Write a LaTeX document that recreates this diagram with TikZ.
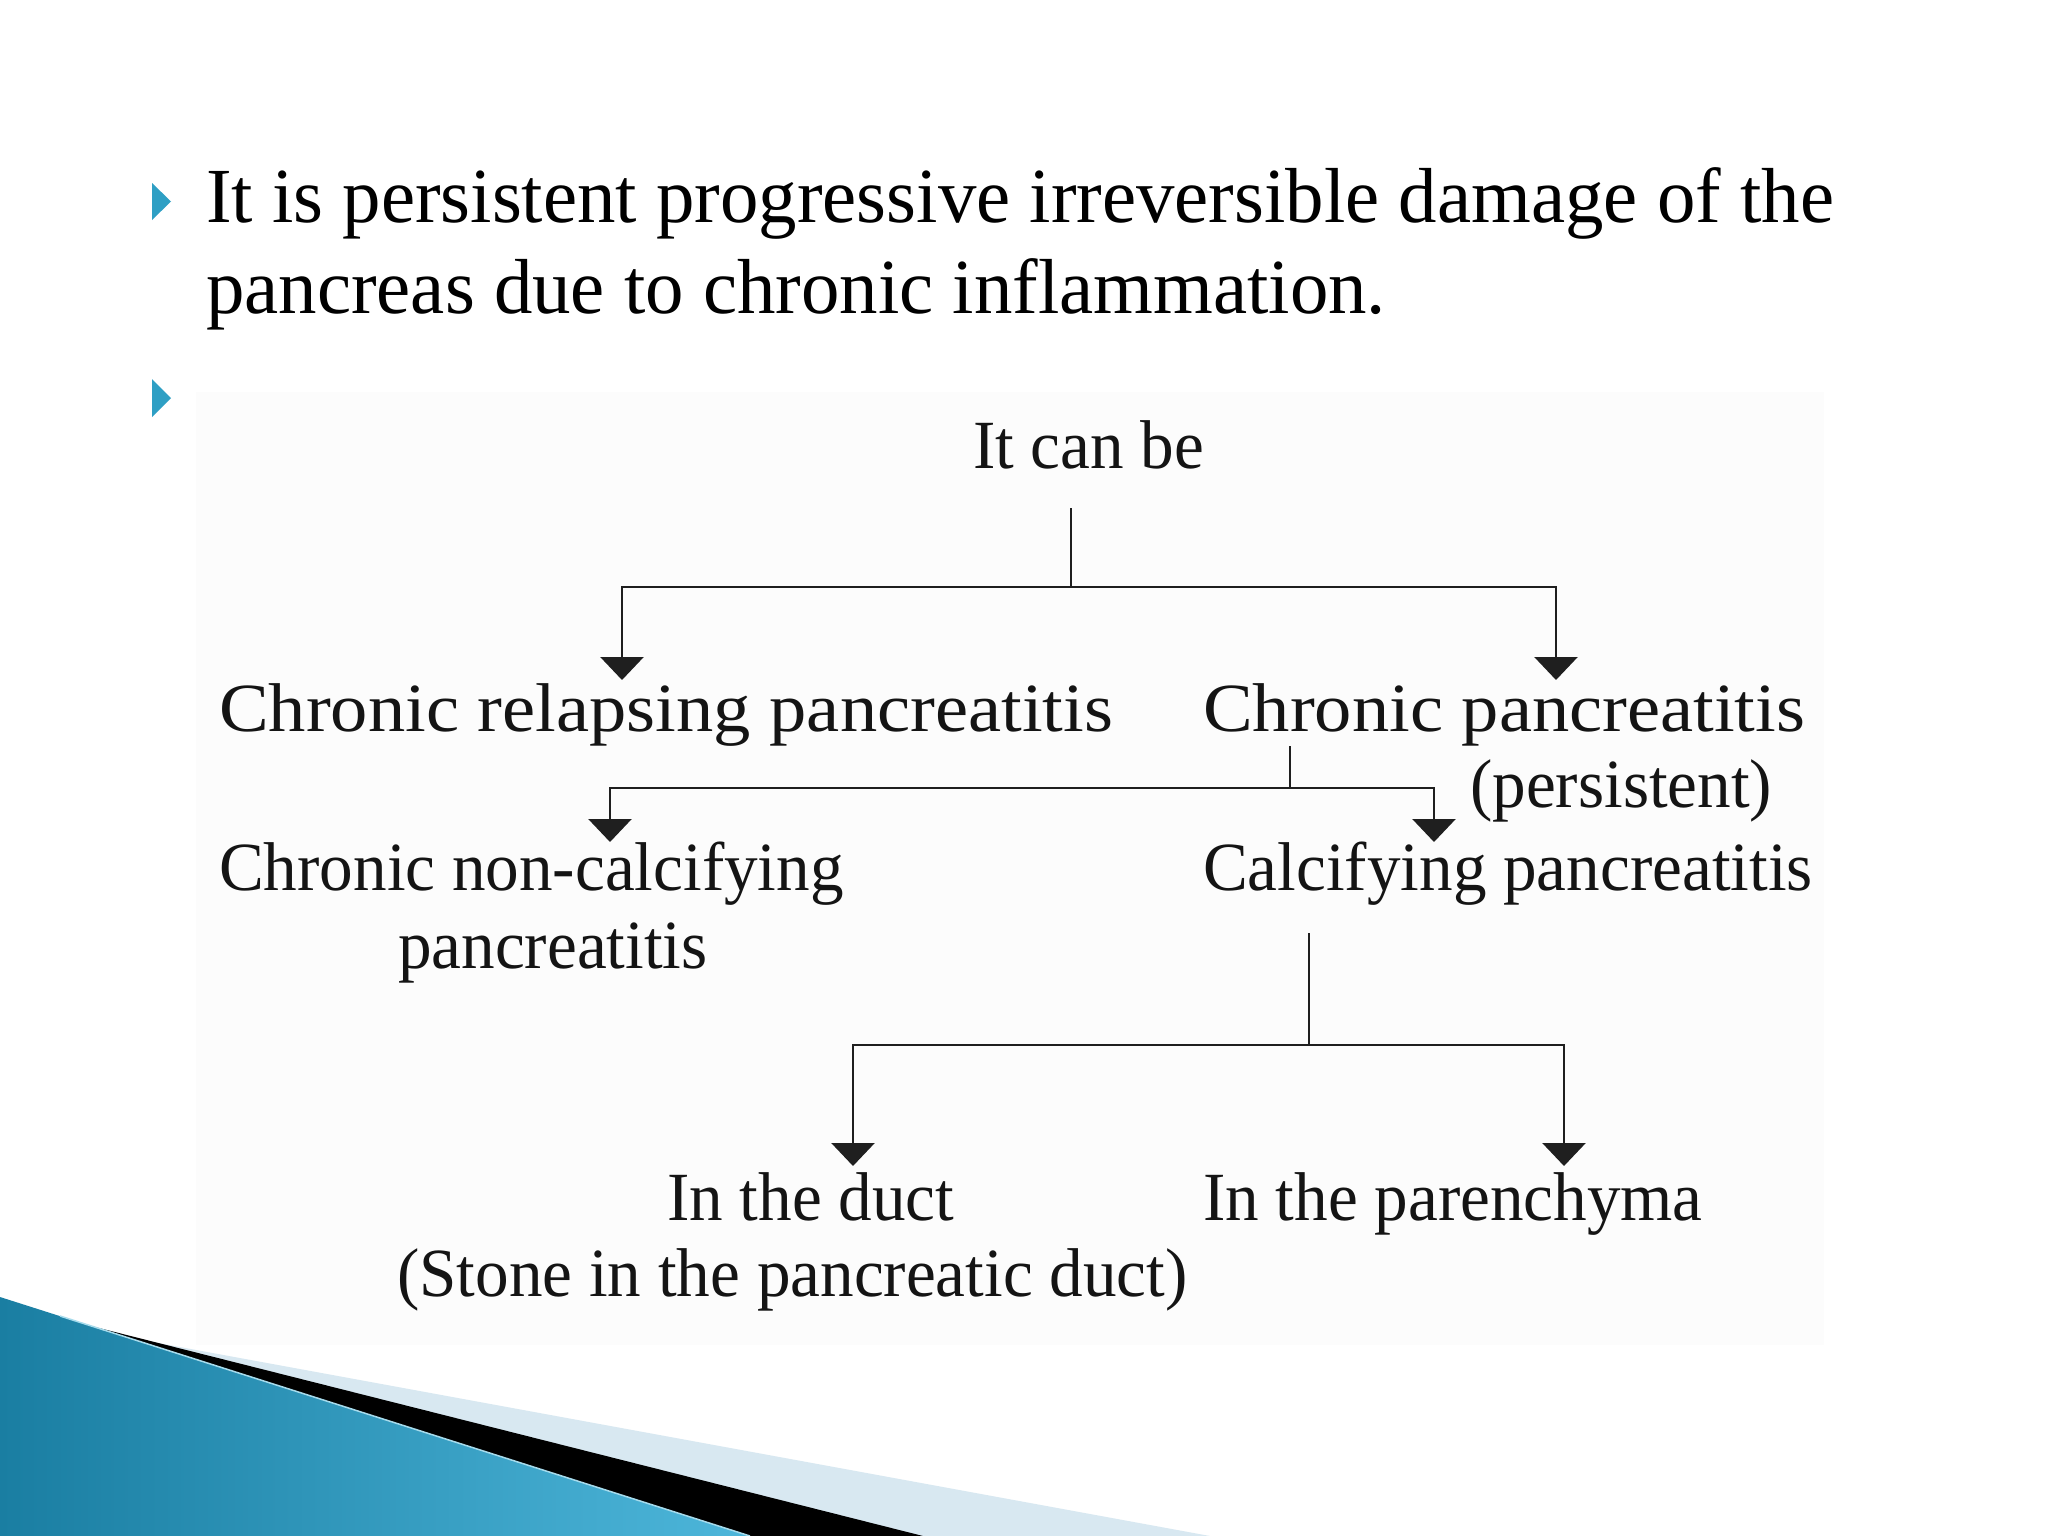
\documentclass[tikz,border=0pt]{standalone}
\usepackage{fontspec}
\setmainfont{Liberation Serif}
\usetikzlibrary{arrows.meta}
\definecolor{bulletc}{HTML}{2E9FC4}
\definecolor{tealdark}{HTML}{1A7EA2}
\definecolor{teallight}{HTML}{4DB6DA}
\definecolor{paleblue}{HTML}{D8E8F1}
\definecolor{imgbg}{HTML}{FCFCFC}
\newfontfamily\mainfnt[FakeStretch=0.985]{Liberation Serif}
\newfontfamily\dfnt[FakeStretch=0.973]{Liberation Serif}
\newfontfamily\dwide[FakeStretch=1.08]{Liberation Serif}
\tikzset{
  maintext/.style={anchor=base west, inner sep=0pt, font=\mainfnt\fontsize{78}{91}\selectfont},
  dtext/.style={anchor=base west, inner sep=0pt, font=\dfnt\fontsize{69}{78}\selectfont, text=black!92},
  dtextwide/.style={dtext, font=\dwide\fontsize{69}{78}\selectfont},
  conn/.style={line width=2.7pt, black!88},
  arr/.style={conn, -{Triangle[width=43pt,length=23pt]}},
  bul/.style={fill=bulletc, draw=none}
}
\begin{document}
\begin{tikzpicture}[x=1pt,y=-1pt]
\useasboundingbox (0,0) rectangle (2048,1536);
\fill[white] (0,0) rectangle (2048,1536);
% diagram image background
\fill[imgbg] (196,392) rectangle (1824,1345);

% bullets
\fill[bul] (152,183) -- (152,220) -- (171,201.5) -- cycle;
\fill[bul] (152,379) -- (152,417) -- (171,398) -- cycle;

% main text
\node[maintext] (l1) at (206,222) {It is persistent progressive irreversible damage of the};
\node[maintext] (l2) at (206,313) {pancreas due to chronic inflammation.};

% diagram texts
\node[dtext] (root) at (973,468) {It can be};
\node[dtextwide] (crp) at (219,731) {Chronic relapsing pancreatitis};
\node[dtextwide] (cp) at (1203,731) {Chronic pancreatitis};
\node[dtext] (pers) at (1470,807) {(persistent)};
\node[dtext] (cnc) at (219,890) {Chronic non-calcifying};
\node[dtext] (cnc2) at (398,968) {pancreatitis};
\node[dtext] (calc) at (1203,890) {Calcifying pancreatitis};
\node[dtext] (duct) at (667,1220) {In the duct};
\node[dtext] (stone) at (397,1296) {(Stone in the pancreatic duct)};
\node[dtext] (par) at (1203,1220) {In the parenchyma};

% connector coordinates
\coordinate (s1) at (1071,508);
\coordinate (j1) at (1071,587);
\coordinate (a1) at (622,587);
\coordinate (t1) at (622,680);
\coordinate (b1) at (1556,587);
\coordinate (u1) at (1556,680);

\coordinate (s2) at (1290,746);
\coordinate (j2) at (1290,788);
\coordinate (a2) at (610,788);
\coordinate (t2) at (610,842);
\coordinate (b2) at (1434,788);
\coordinate (u2) at (1434,842);

\coordinate (s3) at (1309,933);
\coordinate (j3) at (1309,1045);
\coordinate (a3) at (853,1045);
\coordinate (t3) at (853,1166);
\coordinate (b3) at (1564,1045);
\coordinate (u3) at (1564,1166);

\draw[conn] (s1) -- (j1);
\draw[arr] (j1) -- (a1) -- (t1);
\draw[arr] (j1) -- (b1) -- (u1);

\draw[conn] (s2) -- (j2);
\draw[arr] (j2) -- (a2) -- (t2);
\draw[arr] (j2) -- (b2) -- (u2);

\draw[conn] (s3) -- (j3);
\draw[arr] (j3) -- (a3) -- (t3);
\draw[arr] (j3) -- (b3) -- (u3);

% bottom-left decoration
\fill[paleblue] (0,1314) -- (1210,1536) -- (0,1536) -- cycle;
\fill[black] (0,1303) -- (923,1536) -- (0,1536) -- cycle;
\shade[left color=tealdark, right color=teallight] (0,1297) -- (750,1536) -- (0,1536) -- cycle;
\draw[line width=1.5pt, teallight!50!white] (60,1316) -- (750,1536);
\end{tikzpicture}
\end{document}
